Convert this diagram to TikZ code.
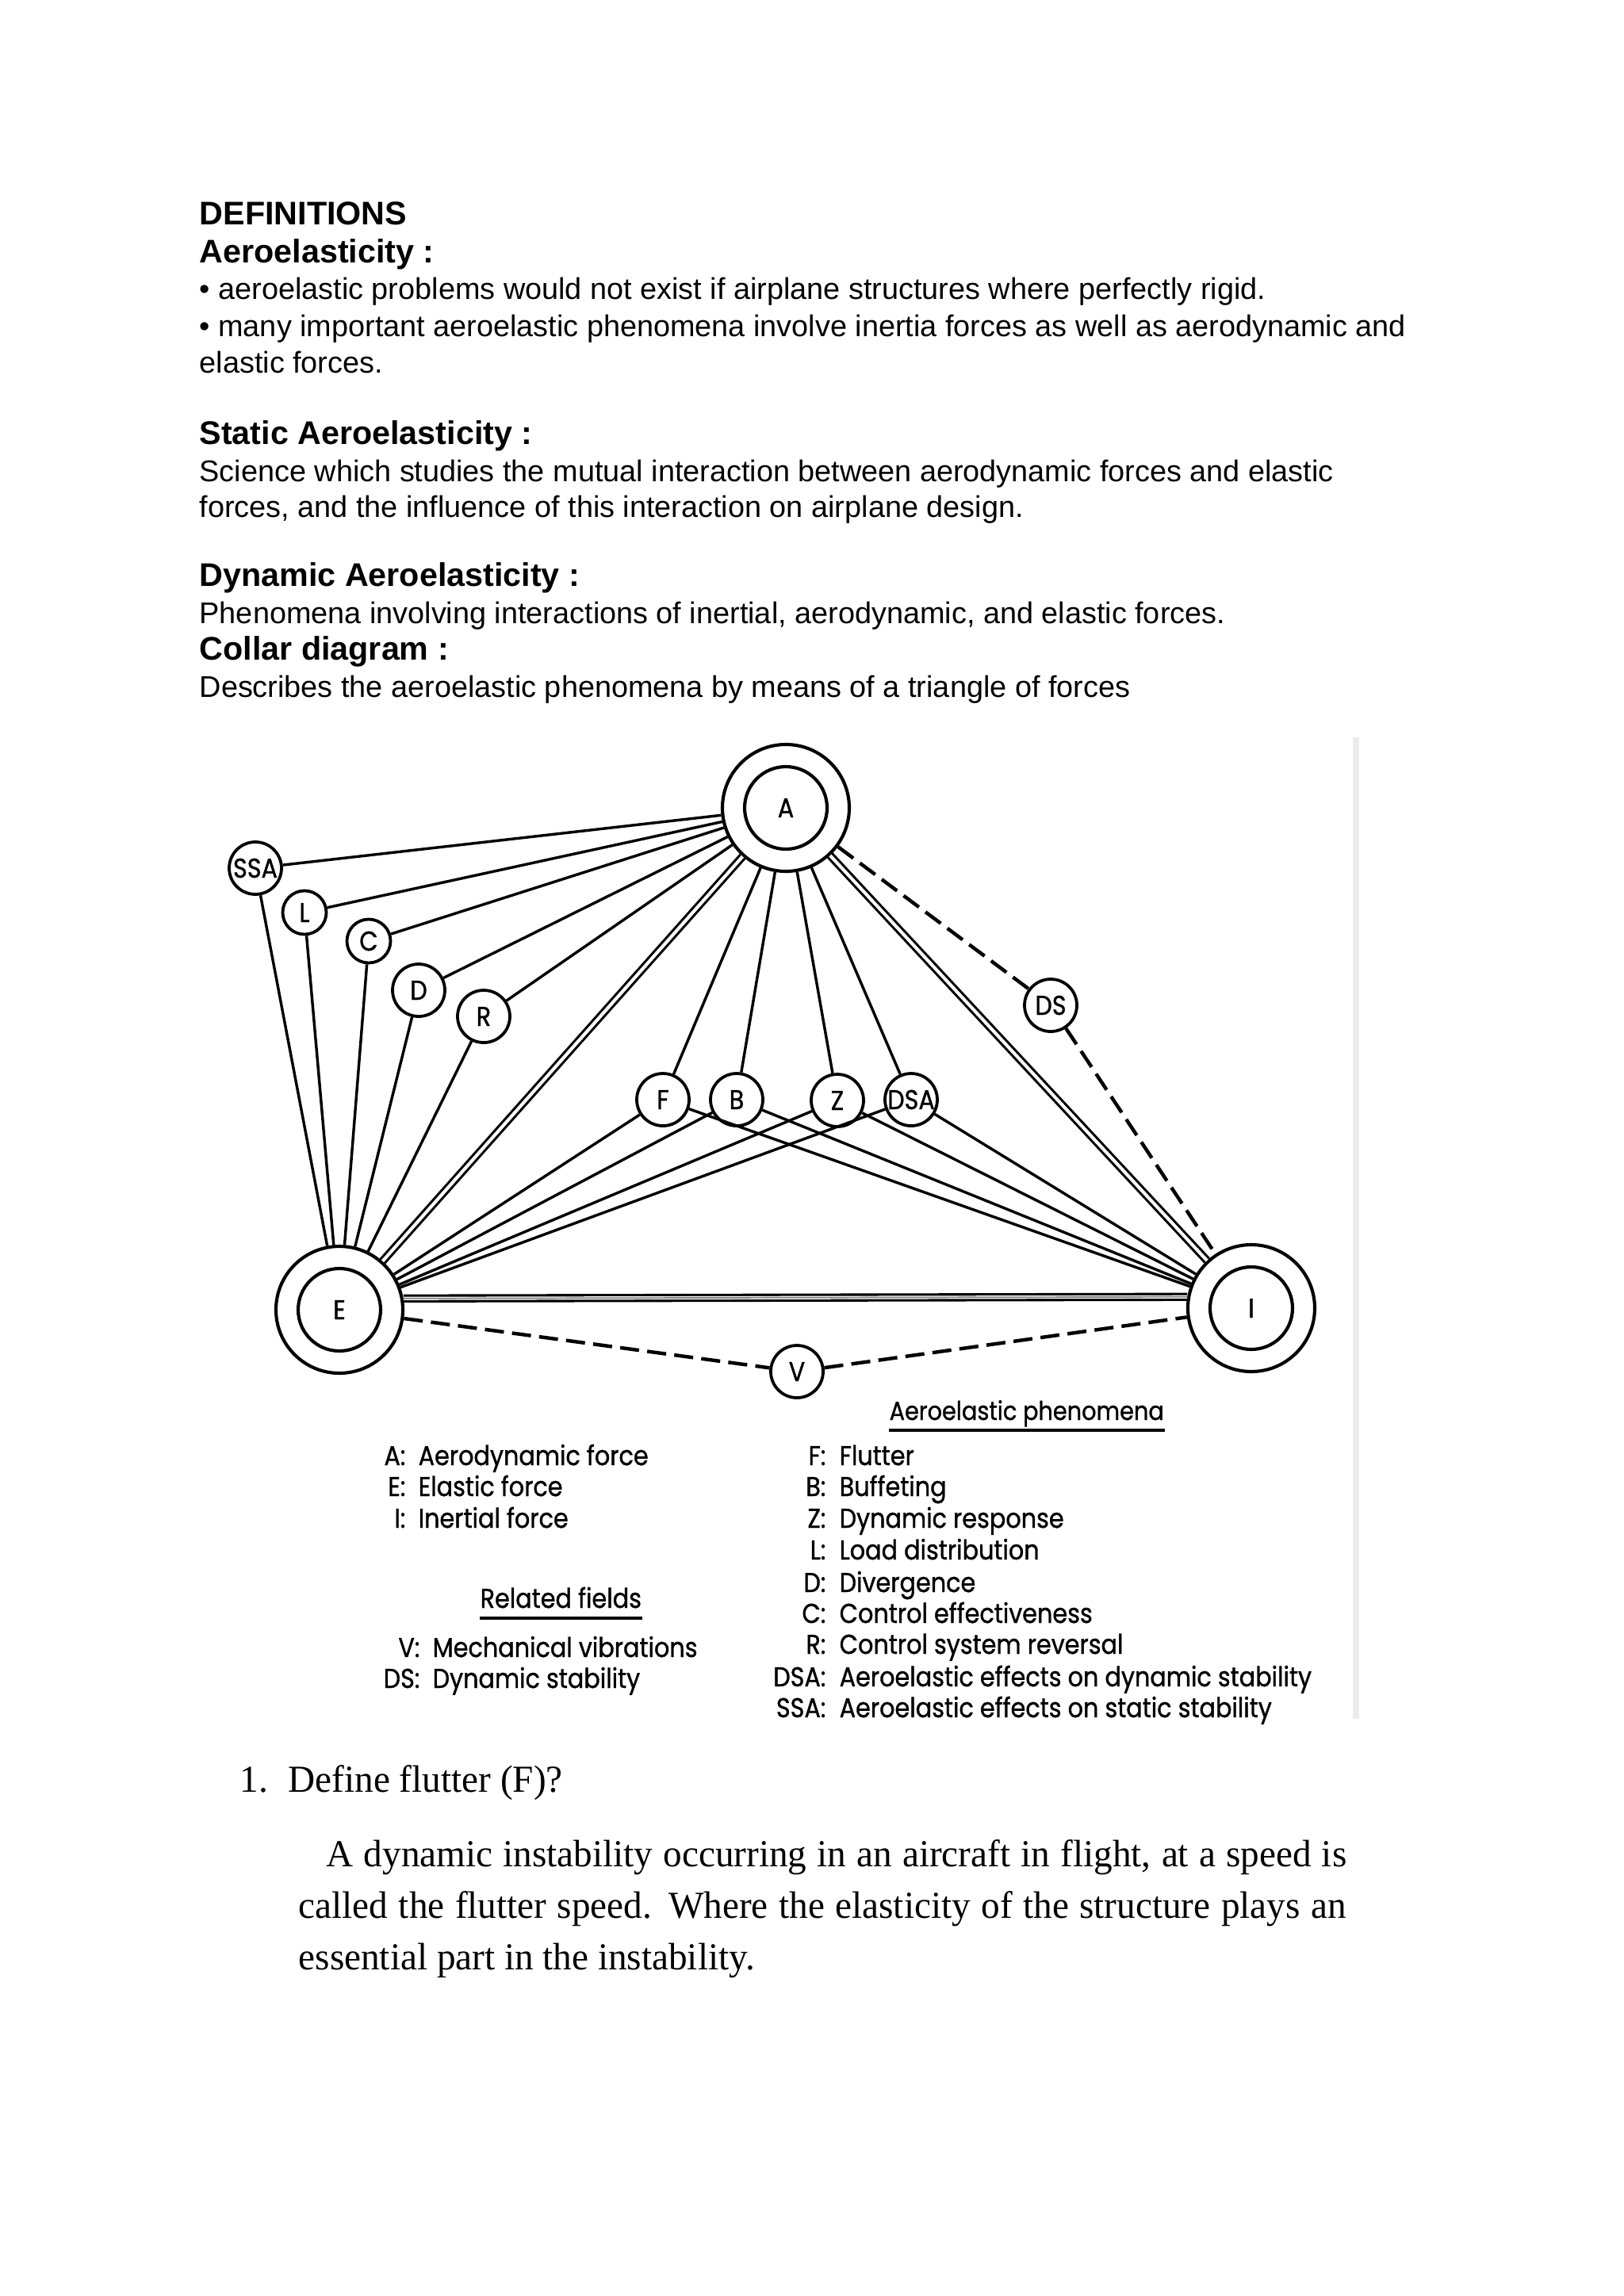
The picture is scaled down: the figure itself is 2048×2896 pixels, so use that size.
\documentclass[tikz,border=0pt]{standalone}
\usepackage{fontspec}
\setmainfont[FakeStretch=0.98]{Liberation Serif}
\newfontfamily\arialfont{Liberation Sans}
\newfontfamily\geofont[FakeStretch=0.88, FakeBold=1]{Poppins}
\newcommand\pxu{0.2907pt}
\tikzset{
  head/.style={anchor=base west, inner sep=0pt, font=\arialfont\bfseries\fontsize{12}{14}\selectfont},
  body/.style={anchor=base west, inner sep=0pt, font=\arialfont\fontsize{11}{13}\selectfont},
  prose/.style={anchor=base west, inner sep=0pt, font=\fontsize{14}{16}\selectfont},
  force/.style={circle, draw, line width=1.2pt, minimum size=160*\pxu, inner sep=0pt, font=\geofont\fontsize{10}{10}\selectfont},
  phen/.style={circle, draw, line width=1.1pt, minimum size=66*\pxu, inner sep=0pt, font=\geofont\fontsize{10}{10}\selectfont},
  phensmall/.style={phen, minimum size=55*\pxu},
  tie/.style={line width=1pt},
  twin/.style={double, double distance=1.2pt, line width=0.9pt},
  link/.style={line width=1.3pt, dash pattern=on 7pt off 3pt},
  keytag/.style={anchor=base east, inner sep=0pt, font=\geofont\fontsize{10}{10}\selectfont},
  keytext/.style={anchor=base west, inner sep=0pt, font=\geofont\fontsize{10}{10}\selectfont},
}
\begin{document}
\begin{tikzpicture}[x=0.2907pt, y=-0.2907pt]
    \useasboundingbox (0,0) rectangle (2048,2896);
    % definitions
    \node[head] (defs) at (251,283) {DEFINITIONS};
    \node[head] (aero) at (251,331) {Aeroelasticity :};
    \node[body] (aero1) at (251,377) {• aeroelastic problems would not exist if airplane structures where perfectly rigid.};
    \node[body] (aero2) at (251,424) {• many important aeroelastic phenomena involve inertia forces as well as aerodynamic and};
    \node[body] (aero3) at (251,470) {elastic forces.};
    \node[head] (stat) at (251,560) {Static Aeroelasticity :};
    \node[body] (stat1) at (251,607) {Science which studies the mutual interaction between aerodynamic forces and elastic};
    \node[body] (stat2) at (251,652) {forces, and the influence of this interaction on airplane design.};
    \node[head] (dyn) at (251,739) {Dynamic Aeroelasticity :};
    \node[body] (dyn1) at (251,786) {Phenomena involving interactions of inertial, aerodynamic, and elastic forces.};
    \node[head] (coll) at (251,832) {Collar diagram :};
    \node[body] (coll1) at (251,879) {Describes the aeroelastic phenomena by means of a triangle of forces};

    % collar triangle
    \draw[gray!15, line width=2.3pt] (1710,930) -- (1710,2168);
    \node[force] (A) at (991,1019) {A};
    \node[force] (E) at (428,1652) {E};
    \node[force] (I) at (1578,1650) {I};
    \foreach \n in {A,E,I}
        \draw[line width=1.2pt] (\n) circle[radius=52];
    \node[phen] (SSA) at (322,1095) {SSA};
    \node[phensmall] (L) at (384,1151) {L};
    \node[phensmall] (C) at (465,1187) {C};
    \node[phen] (D) at (528,1249) {D};
    \node[phen] (R) at (610,1282) {R};
    \node[phen] (F) at (836,1387) {F};
    \node[phen] (B) at (929,1387) {B};
    \node[phen] (Z) at (1056,1388) {Z};
    \node[phen] (DSA) at (1149,1387) {DSA};
    \node[phen] (DS) at (1325,1268) {DS};
    \node[phen] (V) at (1005,1730) {V};

    \foreach \p in {SSA,L,C,D,R} {
        \draw[tie] (A) -- (\p);
        \draw[tie] (\p) -- (E);
    }
    \foreach \p in {F,B,Z,DSA} {
        \draw[tie] (A) -- (\p);
        \draw[tie] (\p) -- (E);
        \draw[tie] (\p) -- (I);
    }
    \draw[twin] (A) -- (E);
    \draw[twin] (A) -- (I);
    \draw[twin] (E.10) -- (I.170);
    \draw[gray, line width=0.5pt] (E.10) -- (I.170);
    \draw[link] (A) -- (DS);
    \draw[link] (DS) -- (I);
    \draw[link] (E) -- (V);
    \draw[link] (V) -- (I);

    % legend
    \node[keytext, font=\geofont\fontsize{9.5}{10}\selectfont] (phenhead) at (1121,1791) {Aeroelastic phenomena};
    \draw[line width=1.3pt] ([yshift=-3.8pt]phenhead.base west) -- ([yshift=-3.8pt]phenhead.base east);
    \node[keytag] at (512,1848) {A:};  \node[keytext] at (527,1848) {Aerodynamic force};
    \node[keytag] at (512,1887) {E:};  \node[keytext] at (527,1887) {Elastic force};
    \node[keytag] at (512,1927) {I:};  \node[keytext] at (527,1927) {Inertial force};
    \node[keytext] (relhead) at (605,2028) {Related fields};
    \draw[line width=1.3pt] ([yshift=-3.8pt]relhead.base west) -- ([yshift=-3.8pt]relhead.base east);
    \node[keytag] at (530,2090) {V:};  \node[keytext] at (545,2090) {Mechanical vibrations};
    \node[keytag] at (530,2129) {DS:}; \node[keytext] at (545,2129) {Dynamic stability};
    \node[keytag] at (1042,1848) {F:};   \node[keytext] at (1058,1848) {Flutter};
    \node[keytag] at (1042,1887) {B:};   \node[keytext] at (1058,1887) {Buffeting};
    \node[keytag] at (1042,1927) {Z:};   \node[keytext] at (1058,1927) {Dynamic response};
    \node[keytag] at (1042,1967) {L:};   \node[keytext] at (1058,1967) {Load distribution};
    \node[keytag] at (1042,2008) {D:};   \node[keytext] at (1058,2008) {Divergence};
    \node[keytag] at (1042,2047) {C:};   \node[keytext] at (1058,2047) {Control effectiveness};
    \node[keytag] at (1042,2086) {R:};   \node[keytext] at (1058,2086) {Control system reversal};
    \node[keytag] at (1042,2127) {DSA:}; \node[keytext] at (1058,2127) {Aeroelastic effects on dynamic stability};
    \node[keytag] at (1042,2166) {SSA:}; \node[keytext] at (1058,2166) {Aeroelastic effects on static stability};

    % question
    \node[prose] (qnum) at (302,2260) {1.};
    \node[prose] (qtext) at (363,2260) {Define flutter (F)?};
    \node[prose] (ans1) at (411,2354) {\makebox[374pt][s]{A dynamic instability occurring in an aircraft in flight, at a speed is}};
    \node[prose] (ans2) at (376,2419) {\makebox[384pt][s]{called the flutter speed. Where the elasticity of the structure plays an}};
    \node[prose] (ans3) at (376,2484) {essential part in the instability.};
\end{tikzpicture}
\end{document}
